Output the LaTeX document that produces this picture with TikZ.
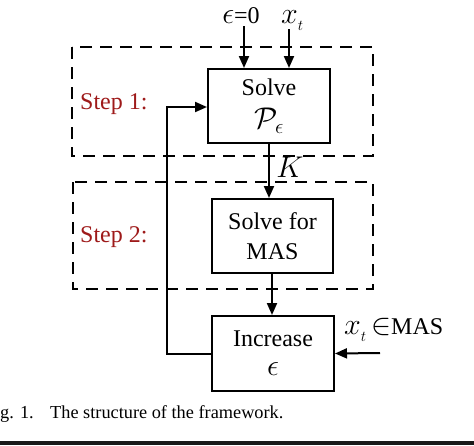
\RequirePackage{fix-cm}
\documentclass[tikz,border=0pt]{standalone}
\usepackage{fontspec}
\setmainfont{Liberation Serif}
\usetikzlibrary{arrows.meta}
\definecolor{stepred}{HTML}{9E1A1A}
\newcommand\mth[1]{{\fontsize{30}{30}\selectfont$#1$}}
\tikzset{
  blk/.style={draw, line width=2pt, rectangle, inner sep=0pt, align=center,
              font=\fontsize{24}{30}\selectfont},
  grp/.style={draw, line width=2pt, dash pattern=on 12pt off 8pt},
  arr/.style={line width=2pt, -{Triangle[length=12pt,width=10pt]}},
  lbl/.style={font=\fontsize{24}{28}\selectfont, inner sep=0pt},
  steplbl/.style={font=\fontsize{24}{28}\selectfont, text=stepred, inner sep=0pt, anchor=west},
  caplbl/.style={font=\fontsize{18.3}{20}\selectfont, anchor=base west, inner sep=0pt},
}
\begin{document}
\begin{tikzpicture}[x=1pt,y=-1pt]
\useasboundingbox (0,0) rectangle (474,445);
% dashed groups
\draw[grp] (72,47) rectangle (373,156);
\draw[grp] (73,182) rectangle (373,289);
% blocks
\node[blk, minimum width=122pt, minimum height=74pt] (solve) at (269,106) {Solve\\[3pt]\mth{\mathcal{P}_{\epsilon}}};
\node[blk, minimum width=121pt, minimum height=74pt] (mas) at (272.5,236) {Solve for\\MAS};
\node[blk, minimum width=122pt, minimum height=75pt] (inc) at (273,353.5) {Increase\\[-1pt]\mth{\epsilon}};
% step labels
\node[steplbl] (s1) at (80,104) {Step 1:};
\node[steplbl] (s2) at (80,237) {Step 2:};
% inputs
\node[lbl, anchor=base] (eps) at (241,23) {\mth{\epsilon}=0};
\node[lbl, anchor=base west] (xt) at (281,23) {\mth{x_{_t}}};
\coordinate (epsin) at (244,26);
\coordinate (xtin) at (289,29);
\draw[arr] (epsin) -- (epsin |- solve.north);
\draw[arr] (xtin) -- (xtin |- solve.north);
% K
\draw[arr] (solve.south) -- (solve.south |- mas.north);
\node[lbl] (k) at (290,167) {\mth{K}};
% mas to inc
\draw[arr] (272,273) -- (inc.north -| 272,0);
% feedback
\coordinate (fbx) at (167,0);
\coordinate (fbin) at (0,107);
\draw[arr] (inc.west) -| (fbx |- fbin) -- (fbin -| solve.west);
% external input
\coordinate (extin) at (380,353);
\draw[arr] (extin) -- (inc.east);
\node[lbl, anchor=base west] (xtm) at (344,334) {\mth{x_{_t}}\,\mth{\in}MAS};
% caption
\node[caplbl] (cap1) at (0,418) {g. 1.};
\node[caplbl] (cap2) at (50,418) {The structure of the framework.};
\fill[black!90] (0,441) rectangle (474,445);
\end{tikzpicture}
\end{document}
